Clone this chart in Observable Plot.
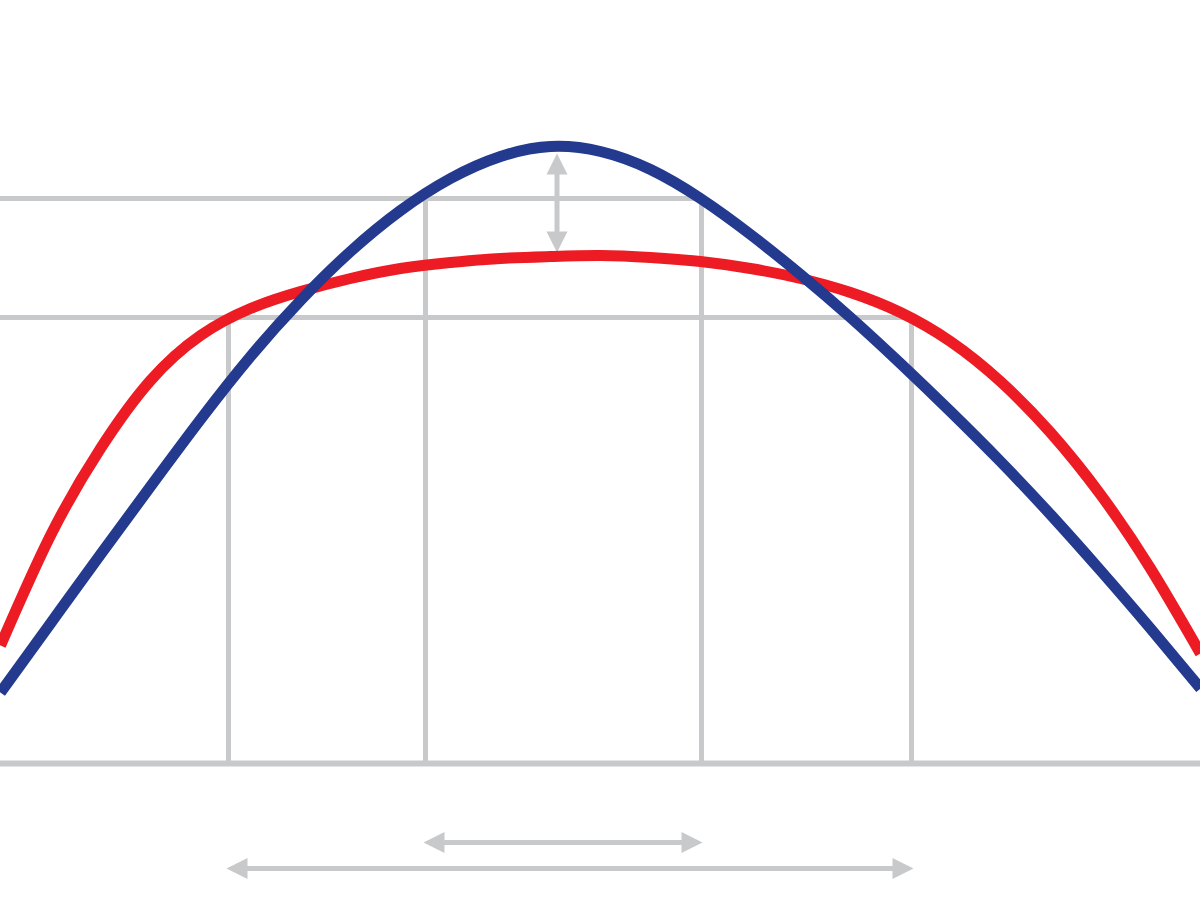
<!DOCTYPE html>
<html>
<head>
<meta charset="utf-8">
<script src="https://cdn.jsdelivr.net/npm/d3@7"></script>
<script src="https://cdn.jsdelivr.net/npm/@observablehq/plot@0.6"></script>
<style>
  html, body { margin: 0; padding: 0; background: #ffffff; }
  #chart svg { display: block; overflow: hidden; }
</style>
</head>
<body>
<div id="chart"></div>
<script>
// Sample positions shared by both curves
const sampleX = [0, 0.5, 1, 1.5, 2, 2.5, 3, 3.5, 4, 4.5, 5, 5.5, 6, 6.5, 7, 7.5, 8, 8.5, 9, 9.5, 10, 10.5, 11, 11.5, 12];

// Blue curve values
const blueY = [0.71, 1.40, 2.09, 2.77, 3.44, 4.07, 4.63, 5.12, 5.53, 5.85, 6.07, 6.17, 6.12, 5.94, 5.65, 5.29, 4.89, 4.46, 4.00, 3.52, 3.02, 2.49, 1.93, 1.35, 0.75];

// Red curve values
const redY = [1.18, 2.28, 3.15, 3.83, 4.28, 4.55, 4.72, 4.85, 4.95, 5.01, 5.05, 5.07, 5.08, 5.06, 5.02, 4.95, 4.85, 4.71, 4.51, 4.22, 3.82, 3.31, 2.69, 1.95, 1.10];

// Grid levels
const gridLevelsY = [5.65, 4.46, 0];
const gridLevelsXEnd = [7.01, 9.11, 12];
const gridColsX = [2.28, 4.25, 7.01, 9.11];
const gridColsTop = [4.46, 5.65, 5.65, 4.46];

// Double-headed arrows: start and end points
const arrowX1 = [5.565, 4.23, 2.26];
const arrowY1 = [6.10, -0.79, -1.05];
const arrowX2 = [5.565, 7.02, 9.13];
const arrowY2 = [5.11, -0.79, -1.05];

const blue = sampleX.map((x, i) => ({x, y: blueY[i]}));
const red = sampleX.map((x, i) => ({x, y: redY[i]}));
const gridH = gridLevelsY.map((y, i) => ({y, x1: 0, x2: gridLevelsXEnd[i]}));
const gridV = gridColsX.map((x, i) => ({x, y1: 0, y2: gridColsTop[i]}));
const arrows = arrowX1.map((x1, i) => ({x1, y1: arrowY1[i], x2: arrowX2[i], y2: arrowY2[i]}));
const heads = arrows.flatMap(a => {
  const ang = Math.atan2(-(a.y2 - a.y1), a.x2 - a.x1) * 180 / Math.PI; // screen angle
  return [
    {x: a.x2, y: a.y2, angle: ang},
    {x: a.x1, y: a.y1, angle: ang + 180}
  ];
});

// Triangle pointing right with its tip at the origin
const headSymbol = {
  draw(context) {
    context.moveTo(0, 0);
    context.lineTo(-21, -10.5);
    context.lineTo(-21, 10.5);
    context.closePath();
  }
};

const GRAY = "#c8c9cb";

const chart = Plot.plot({
  width: 1200,
  height: 900,
  margin: 0,
  style: {background: "#ffffff"},
  x: {domain: [0, 12], axis: null},
  y: {domain: [-1.37, 7.63], axis: null},
  marks: [
    Plot.ruleY(gridH.slice(0, 2), {y: "y", x1: "x1", x2: "x2", stroke: GRAY, strokeWidth: 5}),
    Plot.ruleX(gridV, {x: "x", y1: "y1", y2: "y2", stroke: GRAY, strokeWidth: 5}),
    Plot.ruleY(gridH.slice(2), {y: "y", x1: "x1", x2: "x2", stroke: GRAY, strokeWidth: 6}),
    Plot.arrow(arrows, {x1: "x1", y1: "y1", x2: "x2", y2: "y2", headLength: 0, insetStart: 14, insetEnd: 14, stroke: GRAY, strokeWidth: 5}),
    Plot.dot(heads, {x: "x", y: "y", rotate: "angle", symbol: headSymbol, r: 5, fill: GRAY, stroke: "none"}),
    Plot.line(red, {x: "x", y: "y", curve: "natural", stroke: "#ed1c24", strokeWidth: 11, strokeLinecap: "butt"}),
    Plot.line(blue, {x: "x", y: "y", curve: "natural", stroke: "#233a8f", strokeWidth: 11, strokeLinecap: "butt"})
  ]
});
document.getElementById("chart").append(chart);
</script>
</body>
</html>
